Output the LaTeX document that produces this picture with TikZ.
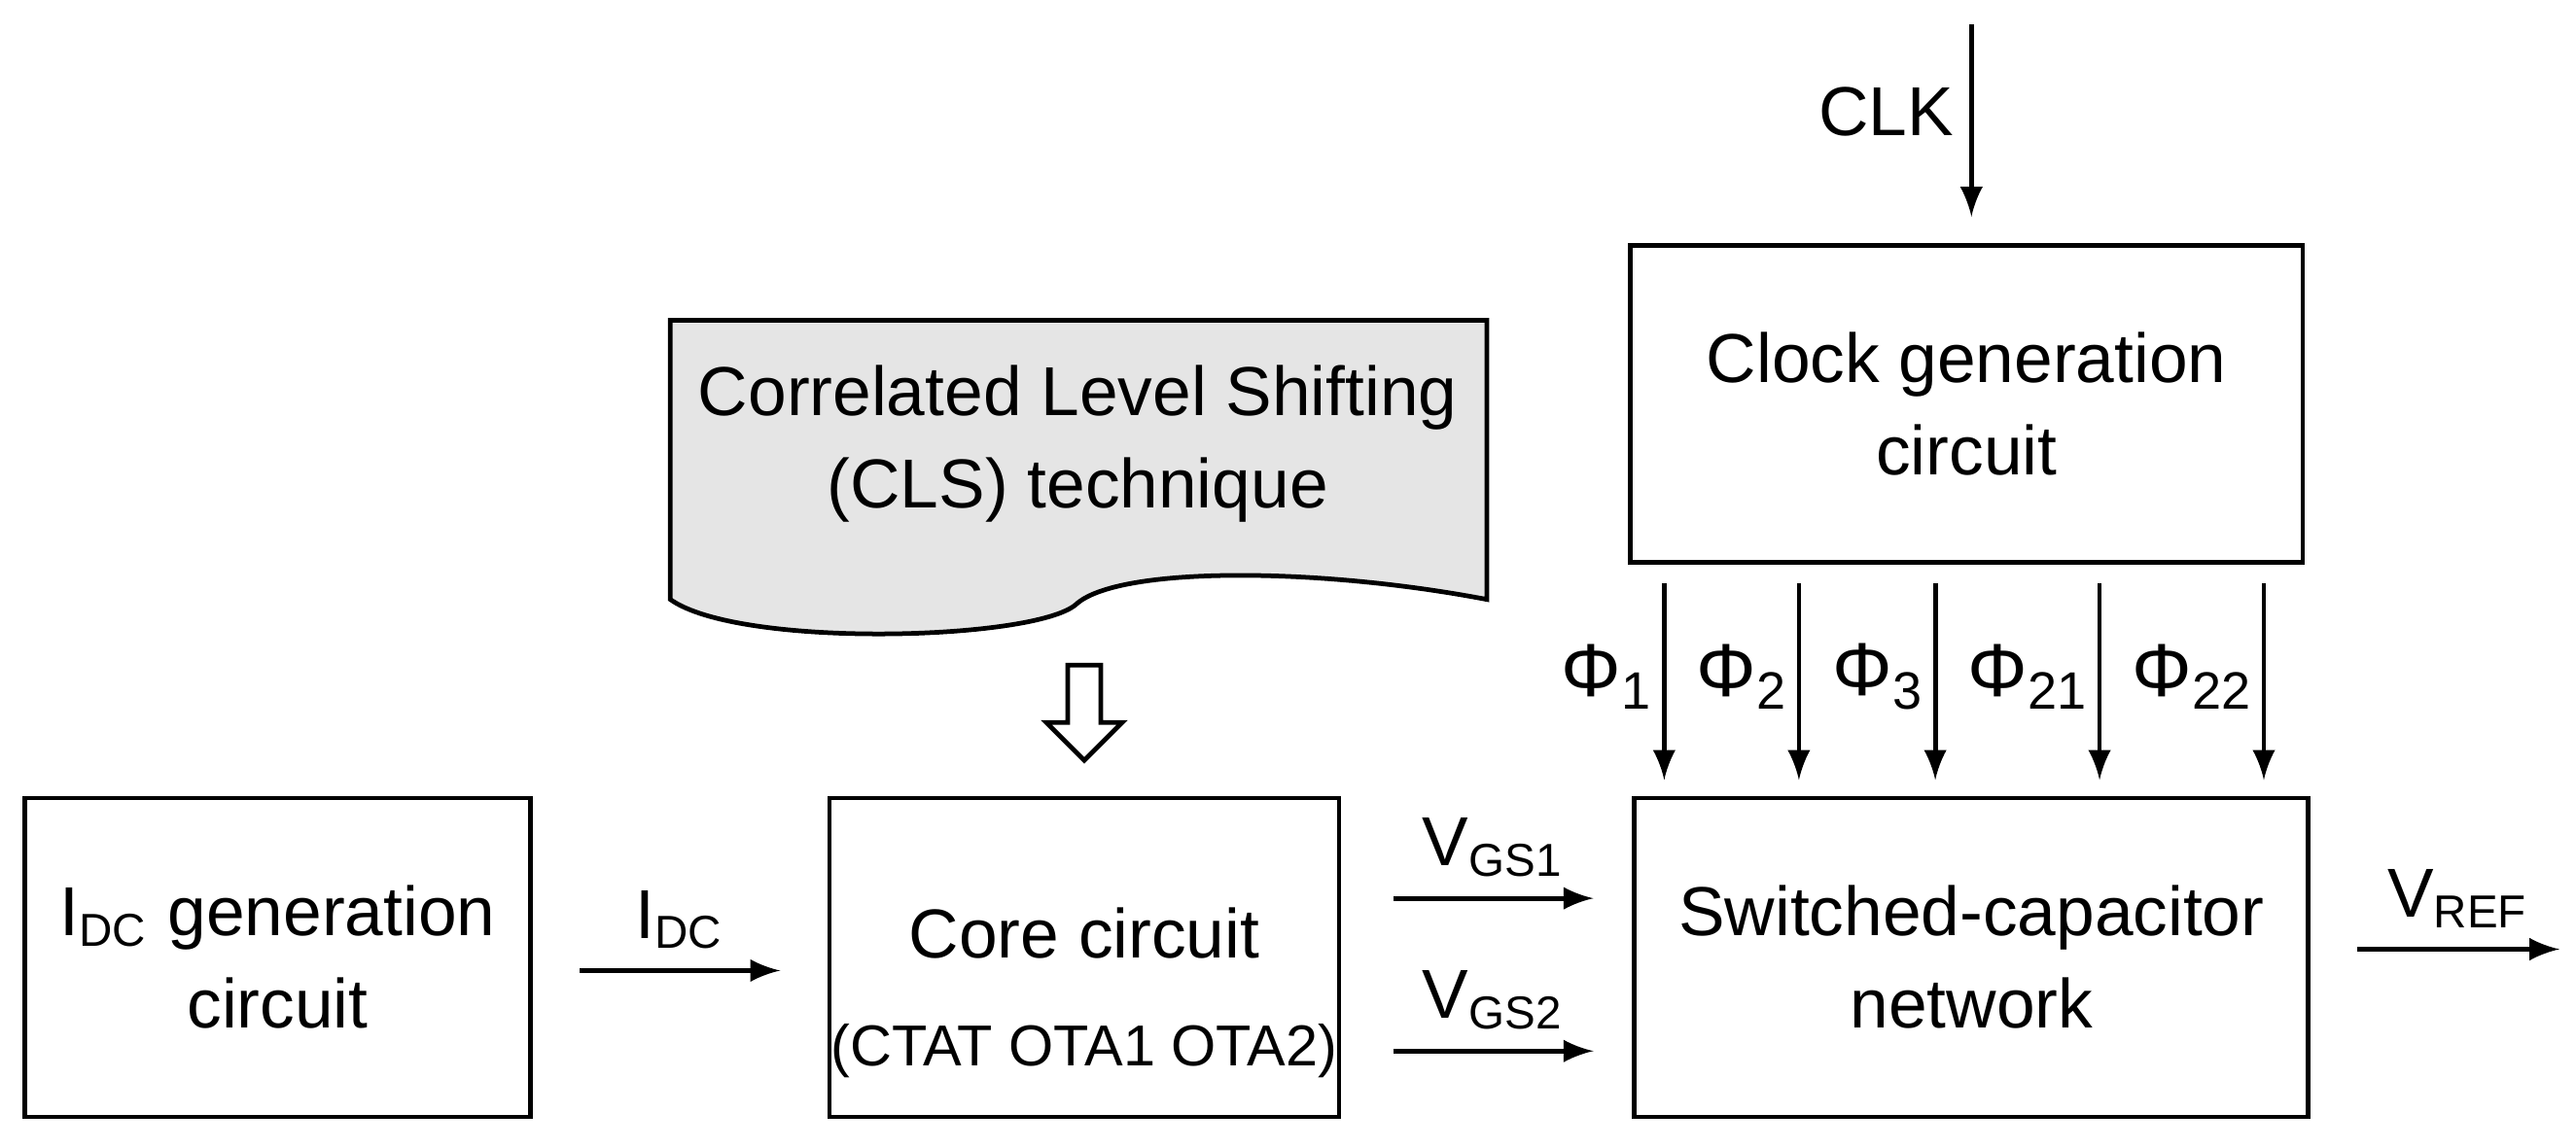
\documentclass[tikz,border=0pt]{standalone}
\usepackage{fontspec}
\setmainfont{Liberation Sans}
\tikzset{
  blk/.style={shape=rectangle,draw=black,line width=0.8pt,align=center,font=\fontsize{12}{16}\selectfont},
  sig/.style={->,>=latex,line width=0.8pt},
  lbl/.style={font=\fontsize{12}{14}\selectfont}
}
\begin{document}
\begin{tikzpicture}[x=0.01cm,y=-0.01cm]
    \useasboundingbox (0,0) rectangle (1568,699);
    % blocks
    \node[blk,minimum width=3.08cm,minimum height=1.94cm] (idc) at (169,583) {I\textsubscript{DC} generation\\circuit};
    \node[blk,minimum width=3.10cm,minimum height=1.94cm] (core) at (660,583) {};
    \node[font=\fontsize{12}{16}\selectfont] (coret) at (660,568) {Core circuit};
    \node[font=\fontsize{10}{12}\selectfont] (cores) at (660,640) {(CTAT OTA1 OTA2)};
    \node[blk,minimum width=4.10cm,minimum height=1.94cm] (sc) at (1200,583) {Switched-capacitor\\network};
    \node[blk,minimum width=4.09cm,minimum height=1.93cm] (clk) at (1197,246) {Clock generation\\circuit};

    % CLS document shape
    \draw[fill=gray!20,line width=0.8pt] (408,195) -- (905,195) -- (905,365)
      .. controls (800,345) and (680,345) .. (655,368)
      .. controls (630,390) and (450,395) .. (408,365) -- cycle;
    \node[lbl,align=center,font=\fontsize{12}{16}\selectfont] (cls) at (656,270) {Correlated Level Shifting\\(CLS) technique};
    \draw[line width=0.8pt,fill=white] (650,405) -- (670,405) -- (670,440) -- (683,440)
      -- (660,463) -- (637,440) -- (650,440) -- cycle;

    % clock input
    \coordinate (clkin) at (1200,15);
    \node[lbl] (clkl) at (1148,68) {CLK};
    \draw[sig] (clkin) -- (1200,132);

    % phases
    \foreach \x/\p in {1013/1,1095/2,1178/3,1278/21,1378/22} {
      \coordinate (pa\p) at (\x,355);
      \coordinate (pb\p) at (\x,475);
      \draw[sig] (pa\p) -- (pb\p);
      \node[lbl,anchor=east,font=\fontsize{13}{14}\selectfont] (pl\p) at (\x+6,412) {Φ\textsubscript{\p}};
    }

    % signals
    \coordinate (a1) at (353,591); \coordinate (a2) at (475,591);
    \draw[sig] (a1) -- node[lbl,above] {I\textsubscript{DC}} (a2);
    \coordinate (b1) at (848,547); \coordinate (b2) at (970,547);
    \draw[sig] (b1) -- node[lbl,above] {V\textsubscript{GS1}} (b2);
    \coordinate (c1) at (848,640); \coordinate (c2) at (970,640);
    \draw[sig] (c1) -- node[lbl,above] {V\textsubscript{GS2}} (c2);
    \coordinate (d1) at (1435,578); \coordinate (d2) at (1558,578);
    \draw[sig] (d1) -- node[lbl,above] {V\textsubscript{REF}} (d2);
\end{tikzpicture}
\end{document}
